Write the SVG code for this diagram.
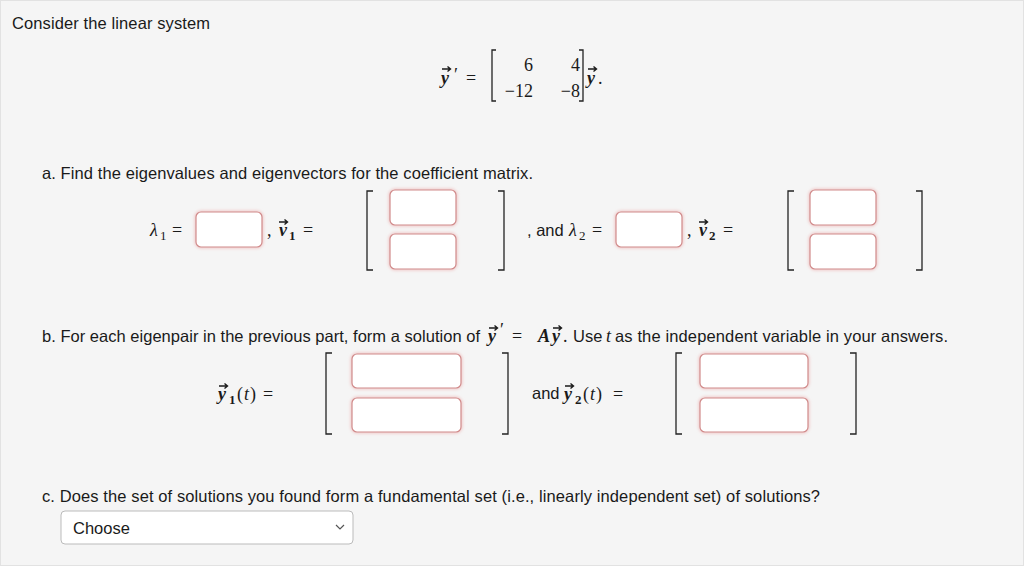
<svg xmlns="http://www.w3.org/2000/svg" width="1024" height="566" viewBox="0 0 1024 566">
<defs>
<filter id="glow" x="-20%" y="-20%" width="140%" height="140%"><feGaussianBlur stdDeviation="1.5"/></filter>
<path id="arr" d="M0 0 h8 M5.5 -2.5 L8.5 0 L5.5 2.5" fill="none" stroke="#1a1a1a" stroke-width="1.4"/>
</defs>
<style>
.t{font-family:"Liberation Sans",Arial,sans-serif;font-size:16.5px;fill:#1a1a1a}
.m{font-family:"Liberation Serif","Times New Roman",serif;font-size:18px;fill:#1a1a1a}
.mb{font-family:"Liberation Serif","Times New Roman",serif;font-size:18px;font-weight:bold;font-style:italic;fill:#1a1a1a}
.mi{font-family:"Liberation Serif","Times New Roman",serif;font-size:18px;font-style:italic;fill:#1a1a1a}
.s{font-size:13px}
.box{fill:#fff;stroke:#d08a8a;stroke-width:1.2}
.halo{fill:none;stroke:#f0c8c8;stroke-width:3;filter:url(#glow)}
.br{fill:none;stroke:#222;stroke-width:1.3}
</style>
<rect x="0" y="0" width="1024" height="566" fill="#f5f5f5"/>
<rect x="0.5" y="0.5" width="1023" height="565" fill="none" stroke="#e2e2e2"/>
<text class="t" x="12" y="29" textLength="198">Consider the linear system</text>
<g id="eq">
<text class="mb" x="441" y="84">y</text><use href="#arr" x="442" y="69"/><text class="m" x="454" y="81">′</text><text class="m" x="466" y="84">=</text>
<path class="br" d="M496 50 h-4 v51 h4 M579 50 h4 v51 h-4"/>
<text class="m" x="533" y="71" text-anchor="end" font-size="17">6</text><text class="m" x="580" y="71" text-anchor="end" font-size="17">4</text>
<text class="m" x="533" y="97" text-anchor="end" font-size="17">−12</text><text class="m" x="580" y="97" text-anchor="end" font-size="17">−8</text>
<text class="mb" x="587" y="84">y</text><use href="#arr" x="588" y="69"/><text class="m" x="598" y="84">.</text>
</g>
<text class="t" x="42" y="179" textLength="491">a. Find the eigenvalues and eigenvectors for the coefficient matrix.</text>
<g id="partA">
<text class="mi" x="150" y="236">λ</text><text class="m s" x="160" y="240">1</text><text class="m" x="172" y="236">=</text>
<rect class="halo" x="196" y="212" width="66" height="35" rx="5"/><rect class="box" x="196" y="212" width="66" height="35" rx="5"/>
<text class="m" x="267" y="236">,</text><text class="mb" x="279" y="236">v</text><use href="#arr" x="279" y="222"/><text class="m s" x="289" y="240" font-weight="bold">1</text><text class="m" x="303" y="236">=</text>
<path class="br" d="M373 191 h-6 v79 h6 M498 191 h6 v79 h-6"/>
<rect class="halo" x="390" y="190" width="66" height="35" rx="5"/><rect class="box" x="390" y="190" width="66" height="35" rx="5"/>
<rect class="halo" x="390" y="234" width="66" height="35" rx="5"/><rect class="box" x="390" y="234" width="66" height="35" rx="5"/>
<text class="t" x="527" y="236">, and</text><text class="mi" x="569" y="236">λ</text><text class="m s" x="579" y="240">2</text><text class="m" x="592" y="236">=</text>
<rect class="halo" x="616" y="212" width="66" height="35" rx="5"/><rect class="box" x="616" y="212" width="66" height="35" rx="5"/>
<text class="m" x="687" y="236">,</text><text class="mb" x="699" y="236">v</text><use href="#arr" x="699" y="222"/><text class="m s" x="709" y="240" font-weight="bold">2</text><text class="m" x="723" y="236">=</text>
<path class="br" d="M794 191 h-6 v79 h6 M916 191 h6 v79 h-6"/>
<rect class="halo" x="810" y="190" width="66" height="35" rx="5"/><rect class="box" x="810" y="190" width="66" height="35" rx="5"/>
<rect class="halo" x="810" y="234" width="66" height="35" rx="5"/><rect class="box" x="810" y="234" width="66" height="35" rx="5"/>
</g>
<g id="partBtext">
<text class="t" x="42" y="342" textLength="438">b. For each eigenpair in the previous part, form a solution of</text>
<text class="mb" x="488" y="342">y</text><use href="#arr" x="489" y="328"/><text class="m" x="500" y="336">′</text><text class="m" x="512" y="342">=</text>
<text class="mb" x="538" y="342">A</text><text class="mb" x="552" y="342">y</text><use href="#arr" x="553" y="328"/><text class="m" x="563" y="342">.</text>
<text class="t" x="573" y="342">Use</text><text class="mi" x="606" y="342">t</text><text class="t" x="615" y="342" textLength="333">as the independent variable in your answers.</text>
</g>
<g id="partB">
<text class="mb" x="218" y="400">y</text><use href="#arr" x="219" y="386"/><text class="m s" x="229" y="404" font-weight="bold">1</text><text class="m" x="237" y="400">(</text><text class="mi" x="244" y="400">t</text><text class="m" x="250" y="400">)</text><text class="m" x="263" y="400">=</text>
<path class="br" d="M332 353 h-6 v81 h6 M502 353 h6 v81 h-6"/>
<rect class="halo" x="352" y="354" width="109" height="34" rx="5"/><rect class="box" x="352" y="354" width="109" height="34" rx="5"/>
<rect class="halo" x="352" y="398" width="109" height="34" rx="5"/><rect class="box" x="352" y="398" width="109" height="34" rx="5"/>
<text class="t" x="532" y="399">and</text><text class="mb" x="564" y="400">y</text><use href="#arr" x="565" y="386"/><text class="m s" x="575" y="404" font-weight="bold">2</text><text class="m" x="583" y="400">(</text><text class="mi" x="590" y="400">t</text><text class="m" x="596" y="400">)</text><text class="m" x="613" y="400">=</text>
<path class="br" d="M682 353 h-6 v81 h6 M850 353 h6 v81 h-6"/>
<rect class="halo" x="700" y="354" width="108" height="34" rx="5"/><rect class="box" x="700" y="354" width="108" height="34" rx="5"/>
<rect class="halo" x="700" y="398" width="108" height="34" rx="5"/><rect class="box" x="700" y="398" width="108" height="34" rx="5"/>
</g>
<text class="t" x="42" y="502" textLength="778">c. Does the set of solutions you found form a fundamental set (i.e., linearly independent set) of solutions?</text>
<g id="select">
<rect x="61" y="511" width="292" height="33" rx="4" fill="#fff" stroke="#bbb"/>
<text class="t" x="73" y="534" font-size="18" fill="#333">Choose</text>
<path d="M336 525 l4 4 l4 -4" fill="none" stroke="#555" stroke-width="1.2"/>
</g>
</svg>
